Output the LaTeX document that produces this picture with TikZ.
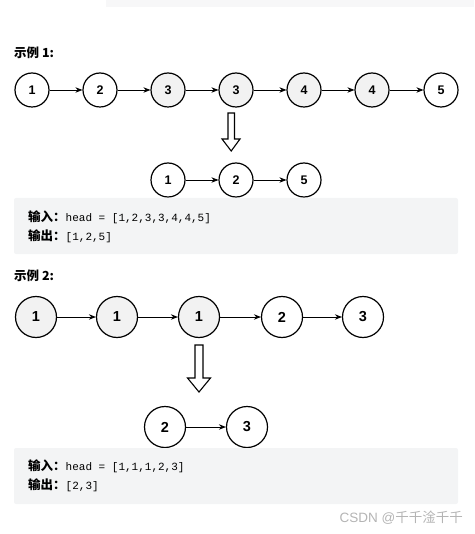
\documentclass[tikz,border=0pt]{standalone}
\usepackage{fontspec}
\setmainfont{Liberation Sans}
\setmonofont{Liberation Mono}
\newfontfamily\cjk{Noto Sans CJK SC}
\usetikzlibrary{arrows.meta}
\definecolor{boxgray}{HTML}{F3F4F5}
\definecolor{nodegray}{HTML}{F2F2F2}
\definecolor{wmgray}{HTML}{B4B4B4}
\tikzset{
  lnode/.style={circle, draw=black, line width=1.2pt, fill=white, inner sep=0pt, font=\fontsize{12.5}{12.5}\selectfont\bfseries},
  small/.style={lnode, minimum size=34pt},
  big/.style={lnode, minimum size=41pt, font=\fontsize{14.5}{14.5}\selectfont\bfseries},
  dup/.style={fill=nodegray},
  link/.style={draw=black, line width=0.9pt, -{Stealth[length=7pt,width=5.5pt]}},
  hollow/.style={draw=black, line width=1.1pt, fill=white, line join=miter},
  codebox/.style={fill=boxgray, draw=none, rounded corners=2pt},
  heading/.style={anchor=west, inner sep=0pt, font=\cjk\fontsize{12.5}{12.5}\selectfont\bfseries},
  codeline/.style={anchor=west, inner sep=0pt, font=\fontsize{11}{11}\selectfont},
}
\begin{document}
\begin{tikzpicture}[x=1pt, y=-1pt]
\useasboundingbox (0,0) rectangle (474,534);
\fill[boxgray!70] (106,0) rectangle (474,7);

% Example 1
\node[heading] (h1) at (14,53) {示例 1:};
\node[small] (a1) at (32,90) {1};
\node[small] (a2) at (100,90) {2};
\node[small,dup] (a3) at (168,90) {3};
\node[small,dup] (a4) at (236,90) {3};
\node[small,dup] (a5) at (304,90) {4};
\node[small,dup] (a6) at (372,90) {4};
\node[small] (a7) at (441,90) {5};
\foreach \i/\j in {a1/a2,a2/a3,a3/a4,a4/a5,a5/a6,a6/a7}
  \draw[link] (\i) -- (\j);

\draw[hollow] (228,113) -- (234.5,113) -- (234.5,139) -- (240,139) -- (231.2,151) -- (222,139) -- (228,139) -- cycle;

\node[small] (b1) at (168,180) {1};
\node[small] (b2) at (236,180) {2};
\node[small] (b3) at (304,180) {5};
\draw[link] (b1) -- (b2);
\draw[link] (b2) -- (b3);

\fill[codebox] (14,198) rectangle (458,254);
\node[codeline] (in1) at (28,217) {{\cjk\bfseries\fontsize{12.5}{12.5}\selectfont 输入：}\ttfamily head = [1,2,3,3,4,4,5]};
\node[codeline] (out1) at (28,236) {{\cjk\bfseries\fontsize{12.5}{12.5}\selectfont 输出：}\ttfamily [1,2,5]};

% Example 2
\node[heading] (h2) at (14,276) {示例 2:};
\node[big,dup] (c1) at (36,317) {1};
\node[big,dup] (c2) at (117,317) {1};
\node[big,dup] (c3) at (199,317) {1};
\node[big] (c4) at (282,317) {2};
\node[big] (c5) at (363,317) {3};
\foreach \i/\j in {c1/c2,c2/c3,c3/c4,c4/c5}
  \draw[link] (\i) -- (\j);

\draw[hollow] (195,345) -- (203,345) -- (203,378) -- (210.5,378) -- (199,392) -- (187.5,378) -- (195,378) -- cycle;

\node[big] (d1) at (165,427) {2};
\node[big] (d2) at (247,427) {3};
\draw[link] (d1) -- (d2);

\fill[codebox] (14,448) rectangle (458,504);
\node[codeline] (in2) at (28,466) {{\cjk\bfseries\fontsize{12.5}{12.5}\selectfont 输入：}\ttfamily head = [1,1,1,2,3]};
\node[codeline] (out2) at (28,485) {{\cjk\bfseries\fontsize{12.5}{12.5}\selectfont 输出：}\ttfamily [2,3]};

\node[anchor=east, inner sep=0pt, text=wmgray, font=\fontsize{13.5}{13.5}\selectfont] (wm) at (463,518) {CSDN @{\cjk 千千淦千千}};
\end{tikzpicture}
\end{document}
